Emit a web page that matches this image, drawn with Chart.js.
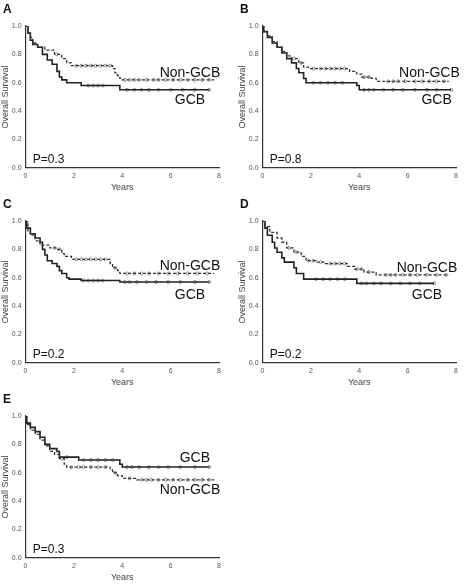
<!DOCTYPE html>
<html><head><meta charset="utf-8">
<script src="https://cdn.jsdelivr.net/npm/chart.js@4"></script>
<style>
body{margin:0;background:#fff;width:474px;height:587px;position:relative;overflow:hidden;font-family:Arial,"Liberation Sans",sans-serif}
.p{position:absolute;width:237px;height:195px}
.p canvas{position:absolute;left:0;top:0}
.lab{position:absolute;left:3px;top:2px;font-weight:bold;font-size:12px;color:#111;z-index:2}
</style></head><body>
<script>
// Panel letters and p-values
const panels = ["A","B","C","D","E"];
const pValues = ["P=0.3","P=0.8","P=0.2","P=0.2","P=0.3"];
const xTicks = [0,2,4,6,8];
const yTicks = [0,0.2,0.4,0.6,0.8,1.0];
// Non-GCB curves (time, survival)
const nonT_A=[0,.1,.2,.3,.5,.8,1.2,1.5,1.7,1.9,3.6,3.7,3.8,3.9,4.0,7.8];
const nonS_A=[1,.95,.92,.88,.85,.83,.80,.77,.74,.72,.70,.67,.65,.63,.62,.62];
const gcbT_A=[0,.1,.2,.3,.5,.7,.9,1.1,1.3,1.4,1.5,1.7,2.3,3.9,7.6];
const gcbS_A=[1,.95,.9,.87,.85,.80,.76,.73,.68,.64,.62,.60,.58,.55,.55];
const nonC_A=[1.3,2.1,2.3,2.5,2.7,2.9,3.1,3.3,3.5,4.1,4.3,4.5,4.7,5,5.3,5.5,5.8,6.1,6.4,6.7,7,7.3,7.6];
const gcbC_A=[2.6,2.8,3.0,3.2,4.2,4.5,4.8,5.1,5.5,6,6.5,7,7.6];

const nonT_B=[0,.05,.2,.4,.6,.8,1,1.2,1.5,1.7,1.9,3.6,3.9,4.1,4.5,4.7,7.7];
const nonS_B=[1,.96,.93,.89,.85,.82,.79,.77,.74,.71,.70,.68,.66,.64,.63,.61,.61];
const gcbT_B=[0,.05,.2,.4,.6,.8,1,1.2,1.4,1.5,1.7,1.8,3.9,4.0,7.8];
const gcbS_B=[1,.96,.92,.88,.85,.81,.77,.74,.70,.67,.63,.60,.58,.55,.55];
const nonC_B=[1.3,1.6,2.1,2.4,2.6,2.8,3.0,3.2,3.4,4.2,4.4,5.2,5.4,5.6,5.9,6.3,6.6,6.9,7.2,7.5];
const gcbC_B=[2.1,2.4,2.7,3.0,3.3,4.2,4.4,4.6,5.0,5.4,5.8,6.3,6.8,7.2,7.8];

const nonT_C=[0,.1,.2,.4,.6,1.0,1.3,1.5,1.6,1.9,3.5,3.6,3.8,3.9,7.8];
const nonS_C=[1,.93,.9,.86,.83,.81,.80,.77,.75,.73,.70,.67,.65,.63,.63];
const gcbT_C=[0,.05,.2,.4,.6,.7,.8,.9,1.1,1.3,1.4,1.5,1.7,1.8,2.3,3.9,7.6];
const gcbS_C=[1,.95,.91,.88,.85,.80,.76,.72,.70,.68,.65,.63,.60,.59,.58,.57,.57];
const nonC_C=[1.2,1.4,2.1,2.3,2.5,2.7,2.9,3.1,3.3,3.7,4.2,4.5,4.8,5.1,5.5,5.9,6.3,6.7,7.1,7.5];
const gcbC_C=[2.4,2.6,2.8,3.0,3.2,4.1,4.3,4.6,5.0,5.4,5.9,6.4,7.0,7.6];

const nonT_D=[0,.1,.3,.6,.8,1,1.3,1.6,1.8,2.2,2.6,3.5,3.8,4.2,4.7,7.7];
const nonS_D=[1,.96,.92,.88,.85,.81,.78,.75,.72,.71,.70,.68,.66,.64,.62,.62];
const gcbT_D=[0,.1,.2,.4,.5,.6,.8,.9,1.3,1.4,1.7,3.9,7.1];
const gcbS_D=[1,.95,.90,.85,.81,.78,.74,.71,.67,.63,.59,.56,.56];
const nonC_D=[1.1,1.4,1.9,2.1,2.4,2.8,3.0,3.2,3.4,3.9,4.1,4.4,5.1,5.3,5.5,5.8,6.1,6.4,6.8,7.2,7.6];
const gcbC_D=[2.2,2.5,2.8,3.1,3.4,4.1,4.3,4.6,4.9,5.3,5.7,6.1,6.5,7.1];

const gcbT_E=[0,.05,.2,.4,.6,.8,1,1.3,1.4,2.2,3.9,4.0,7.6];
const gcbS_E=[1,.95,.92,.89,.85,.80,.77,.75,.71,.69,.66,.64,.64];
const nonT_E=[0,.05,.2,.4,.6,.8,1,1.2,1.4,1.6,1.7,3.5,3.6,3.8,4.0,4.6,7.8];
const nonS_E=[1,.94,.9,.87,.83,.79,.75,.73,.70,.66,.64,.62,.60,.58,.56,.55,.55];
const gcbC_E=[1.7,2.4,2.7,3.0,3.3,3.6,4.2,4.4,4.7,5.1,5.5,5.9,6.4,7.0,7.6];
const nonC_E=[1.5,1.9,2.2,2.4,2.7,3.0,3.3,3.7,4.3,4.8,5.0,5.2,5.5,5.8,6.1,6.4,6.7,7.0,7.3,7.6];

const curves = {
 A:{nT:nonT_A,nS:nonS_A,gT:gcbT_A,gS:gcbS_A,nC:nonC_A,gC:gcbC_A,nonLab:[6.8,.67],gcbLab:[6.8,.48]},
 B:{nT:nonT_B,nS:nonS_B,gT:gcbT_B,gS:gcbS_B,nC:nonC_B,gC:gcbC_B,nonLab:[6.9,.67],gcbLab:[7.2,.48]},
 C:{nT:nonT_C,nS:nonS_C,gT:gcbT_C,gS:gcbS_C,nC:nonC_C,gC:gcbC_C,nonLab:[6.8,.68],gcbLab:[6.8,.48]},
 D:{nT:nonT_D,nS:nonS_D,gT:gcbT_D,gS:gcbS_D,nC:nonC_D,gC:gcbC_D,nonLab:[6.8,.67],gcbLab:[6.8,.48]},
 E:{nT:nonT_E,nS:nonS_E,gT:gcbT_E,gS:gcbS_E,nC:nonC_E,gC:gcbC_E,nonLab:[6.8,.48],gcbLab:[7.0,.70]}
};
const pos=[[0,0],[237,0],[0,195],[237,195],[0,390]];

function stepAt(T,S,t){let v=S[0];for(let i=0;i<T.length;i++){if(T[i]<=t)v=S[i];}return v;}

const textPlugin={id:'txt',afterDatasetsDraw(ch,a,o){
 const c=ch.ctx,x=ch.scales.x,y=ch.scales.y,d=ch.options.plugins.txt;
 c.save();c.fillStyle='#111';c.textBaseline='middle';c.textAlign='center';
 c.font='14px Arial, "Liberation Sans"';
 c.fillText('Non-GCB',x.getPixelForValue(d.nonLab[0]),y.getPixelForValue(d.nonLab[1]));
 c.fillText('GCB',x.getPixelForValue(d.gcbLab[0]),y.getPixelForValue(d.gcbLab[1]));
 c.textAlign='left';c.font='12px Arial, "Liberation Sans"';
 c.fillText(d.p,x.getPixelForValue(0.3),y.getPixelForValue(0.06));
 c.restore();}};

panels.forEach((k,i)=>{
 const div=document.createElement('div');div.className='p';
 div.style.left=pos[i][0]+'px';div.style.top=pos[i][1]+'px';
 div.innerHTML='<div class="lab">'+k+'</div><canvas width="237" height="195"></canvas>';
 document.body.appendChild(div);
 const cv=curves[k];
 const line=(T,S)=>T.map((t,j)=>({x:t,y:S[j]}));
 const cens=(C,T,S)=>C.map(t=>({x:t,y:stepAt(T,S,t)}));
 new Chart(div.querySelector('canvas'),{type:'scatter',
  data:{datasets:[
   {data:line(cv.nT,cv.nS),showLine:true,stepped:'before',borderColor:'#333',borderWidth:1.3,borderDash:[3,2],pointRadius:0,fill:false},
   {data:line(cv.gT,cv.gS),showLine:true,stepped:'before',borderColor:'#222',borderWidth:1.6,pointRadius:0,fill:false},
   {data:cens(cv.nC,cv.nT,cv.nS),showLine:false,pointStyle:'circle',pointRadius:1.5,borderColor:'#666',borderWidth:0.7,backgroundColor:'#fff'},
   {data:cens(cv.gC,cv.gT,cv.gS),showLine:false,pointStyle:'circle',pointRadius:1.5,borderColor:'#666',borderWidth:0.7,backgroundColor:'#fff'}
  ]},
  options:{responsive:false,animation:false,
   layout:{padding:{top:26,right:18,left:0,bottom:2}},
   plugins:{legend:{display:false},tooltip:{enabled:false},txt:{nonLab:cv.nonLab,gcbLab:cv.gcbLab,p:pValues[i]}},
   scales:{
    x:{type:'linear',min:0,max:8,afterBuildTicks:a=>{a.ticks=xTicks.map(v=>({value:v}));},
       grid:{display:false,drawTicks:true,tickLength:3,tickColor:'#333'},border:{color:'#333',width:1.2},
       ticks:{font:{size:7},color:'#555',padding:1},
       title:{display:true,text:'Years',font:{size:9},color:'#444',padding:{top:1,bottom:0}}},
    y:{type:'linear',min:0,max:1.0,afterBuildTicks:a=>{a.ticks=yTicks.map(v=>({value:v}));},
       grid:{display:false,drawTicks:true,tickLength:3,tickColor:'#333'},border:{color:'#333',width:1.2},
       ticks:{font:{size:7},color:'#555',padding:1,callback:v=>v.toFixed(1)},
       title:{display:true,text:'Overall Survival',font:{size:9},color:'#444',padding:{top:0,bottom:0}}}
   }},
  plugins:[textPlugin]});
});
</script>
</body></html>
